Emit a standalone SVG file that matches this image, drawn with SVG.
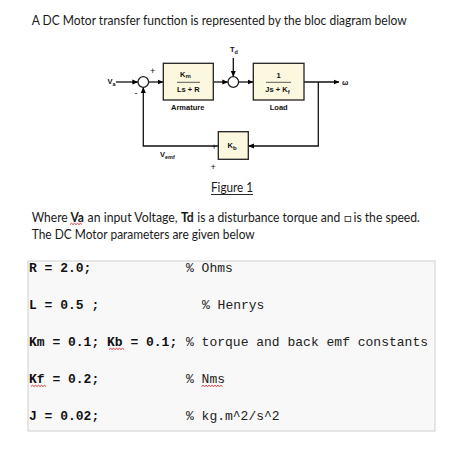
<svg xmlns="http://www.w3.org/2000/svg" width="457" height="457" viewBox="0 0 457 457">
<defs>
<marker id="ah" markerWidth="6" markerHeight="6" refX="5.5" refY="3" orient="auto" markerUnits="userSpaceOnUse">
<path d="M0,0.5 L6,3 L0,5.5 Z" fill="#000"/>
</marker>
<style>
.body{font-family:Lato,"Open Sans","Liberation Sans",sans-serif;font-size:12.5px;fill:#1a1a1a}
.dg{font-family:"Liberation Sans",Arial,sans-serif;font-weight:bold;font-size:7.5px;fill:#111}
.pm{font-family:"Liberation Sans",Arial,sans-serif;font-size:9px;fill:#111}
.blk{fill:#fbf8df;stroke:#222;stroke-width:1.3}
.sum{fill:#fff;stroke:#222;stroke-width:1.3}
.ln{fill:none;stroke:#111;stroke-width:1.3}
.code{font-family:"Liberation Mono","Courier New",monospace;font-size:13px;font-weight:bold;fill:#111}
.cmt{font-family:"Liberation Mono","Courier New",monospace;font-size:13px;fill:#222}
.sq{fill:none;stroke:#d02020;stroke-width:0.9}
</style>
</defs>
<rect width="457" height="457" fill="#fff"/>
<text class="body" x="31.7" y="25" textLength="375" lengthAdjust="spacingAndGlyphs">A DC Motor transfer function is represented by the bloc diagram below</text>

<g id="connectors">
<line class="ln" x1="116" y1="82" x2="137.8" y2="82" marker-end="url(#ah)"/>
<line class="ln" x1="148.8" y1="82" x2="163" y2="82" marker-end="url(#ah)"/>
<line class="ln" x1="213.3" y1="82" x2="227.8" y2="82" marker-end="url(#ah)"/>
<line class="ln" x1="238.8" y1="82" x2="253" y2="82" marker-end="url(#ah)"/>
<line class="ln" x1="304" y1="82" x2="339" y2="82" marker-end="url(#ah)"/>
<line class="ln" x1="233.3" y1="58" x2="233.3" y2="76.5" marker-end="url(#ah)"/>
<polyline class="ln" points="318.3,82 318.3,146 248.5,146" marker-end="url(#ah)"/>
<polyline class="ln" points="218.3,146 143.3,146 143.3,87.5" marker-end="url(#ah)"/>
</g>

<g id="sum1"><circle class="sum" cx="143.3" cy="82" r="5.3"/></g>
<g id="sum2"><circle class="sum" cx="233.3" cy="82" r="5.3"/></g>

<g id="armature">
<rect class="blk" x="163.3" y="63.3" width="50" height="36.7"/>
<text class="dg" x="185.5" y="76.5" text-anchor="middle">K<tspan font-size="6" dy="1.5">m</tspan></text>
<line x1="177" y1="82.3" x2="200" y2="82.3" stroke="#333" stroke-width="0.8"/>
<text class="dg" x="188.3" y="92" text-anchor="middle">Ls + R</text>
<text class="dg" x="187.7" y="110" text-anchor="middle">Armature</text>
</g>

<g id="load">
<rect class="blk" x="253.3" y="63.3" width="50.7" height="36.7"/>
<text class="dg" x="278.5" y="78" text-anchor="middle">1</text>
<line x1="266" y1="82.3" x2="291" y2="82.3" stroke="#333" stroke-width="0.8"/>
<text class="dg" x="277.5" y="92" text-anchor="middle">Js + K<tspan font-size="6" dy="1.5">f</tspan></text>
<text class="dg" x="278.7" y="110" text-anchor="middle">Load</text>
</g>

<g id="kb">
<rect class="blk" x="218.3" y="131.7" width="30" height="27.6"/>
<text class="dg" x="232" y="148" text-anchor="middle">K<tspan font-size="6" dy="1.5">b</tspan></text>
</g>

<g id="labels">
<text class="dg" x="107.5" y="84">V<tspan font-size="5.5" dy="1.5">a</tspan></text>
<text class="dg" x="230" y="52">T<tspan font-size="5.5" dy="1.5">d</tspan></text>
<text class="dg" x="342" y="84.5">ω</text>
<text class="dg" x="160" y="157">V<tspan font-size="5.5" dy="1.5">emf</tspan></text>
<text class="pm" x="150" y="73.5">+</text>
<text class="pm" x="134.5" y="96">-</text>
<text class="pm" x="211.5" y="149.5">+</text>
<text class="pm" x="210.5" y="170">+</text>
</g>

<text class="body" x="211" y="192" textLength="42" lengthAdjust="spacingAndGlyphs">Figure 1</text>
<line x1="211" y1="194.5" x2="253" y2="194.5" stroke="#111" stroke-width="0.9"/>

<text class="body" x="31.7" y="221.5" textLength="36" lengthAdjust="spacingAndGlyphs">Where</text>
<text class="body" x="70.4" y="221.5" font-weight="bold" textLength="13.6" lengthAdjust="spacingAndGlyphs">Va</text>
<text class="body" x="87.6" y="221.5" textLength="90" lengthAdjust="spacingAndGlyphs">an input Voltage,</text>
<text class="body" x="180.9" y="221.5" font-weight="bold" textLength="12.8" lengthAdjust="spacingAndGlyphs">Td</text>
<text class="body" x="197.3" y="221.5" textLength="143" lengthAdjust="spacingAndGlyphs">is a disturbance torque and</text>
<text class="body" x="344.3" y="221.5">□</text>
<text class="body" x="353.5" y="221.5" textLength="66.4" lengthAdjust="spacingAndGlyphs">is the speed.</text>
<polyline class="sq" points="70,224.5 71.5,223.3 73,224.5 74.5,223.3 76,224.5 77.5,223.3 79,224.5 80.5,223.3 82,224.5"/>
<text class="body" x="31.7" y="238.5" textLength="223" lengthAdjust="spacingAndGlyphs">The DC Motor parameters are given below</text>

<rect x="28" y="261" width="407" height="170" fill="#f8f8f8" stroke="#cfcfcf" stroke-width="1"/>
<text class="code" x="29" y="272">R = 2.0;</text>
<text class="cmt" x="186" y="272">% Ohms</text>
<text class="code" x="29" y="309">L = 0.5  ;</text>
<text class="cmt" x="202" y="309">% Henrys</text>
<text class="code" x="29" y="346">Km = 0.1; Kb = 0.1;</text>
<text class="cmt" x="186" y="346" textLength="242" lengthAdjust="spacing">% torque and back emf constants</text>
<text class="code" x="29" y="383">Kf = 0.2;</text>
<text class="cmt" x="186" y="383">% Nms</text>
<text class="code" x="29" y="420">J = 0.02;</text>
<text class="cmt" x="186" y="420">% kg.m^2/s^2</text>
<polyline class="sq" points="109,349.5 110.5,348.3 112,349.5 113.5,348.3 115,349.5 116.5,348.3 118,349.5 119.5,348.3 121,349.5 122.5,348.3 124,349.5"/>
<polyline class="sq" points="31,386.5 32.5,385.3 34,386.5 35.5,385.3 37,386.5 38.5,385.3 40,386.5 41.5,385.3 43,386.5 44.5,385.3 46,386.5"/>
<polyline class="sq" points="201.5,386.5 203,385.3 204.5,386.5 206,385.3 207.5,386.5 209,385.3 210.5,386.5 212,385.3 213.5,386.5 215,385.3 216.5,386.5 218,385.3 219.5,386.5 221,385.3 222.5,386.5"/>
</svg>
